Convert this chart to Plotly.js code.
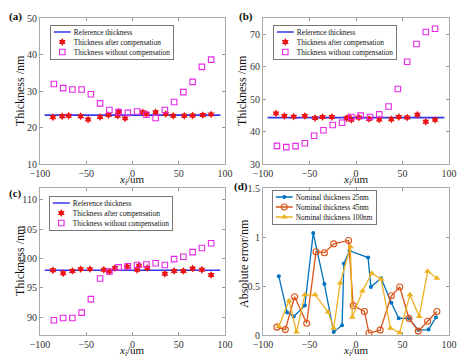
<!DOCTYPE html>
<html>
<head>
<meta charset="utf-8">
<script src="https://cdn.plot.ly/plotly-3.0.1.min.js"></script>
<style>
html,body{margin:0;padding:0;background:#fff;}
#plot{width:474px;height:361px;}
</style>
</head>
<body>
<div id="plot"></div>
<script>
// ---------- data ----------
var refX = [-95, 95];
// panel (a) nominal 25 nm
var refA = 23.4;
var afterAx = [-86, -76, -69, -56, -48, -35, -26, -16, -15, -8, 11, 15, 25, 36, 44, 56, 65, 76, 85];
var afterAy = [22.8, 23.1, 23.2, 23.1, 22.2, 22.9, 23.4, 23.2, 24.3, 22.5, 24.2, 23.7, 24.2, 23.7, 23.2, 23.2, 23.3, 23.4, 23.6];
var withoutX = [-85, -75, -65, -55, -45, -35, -25, -15, -5, 5, 15, 25, 35, 45, 55, 65, 75, 85];
var withoutAy = [31.9, 30.8, 30.4, 30.4, 29.1, 26.6, 24.8, 24.2, 24.0, 24.4, 23.5, 22.6, 24.8, 27.0, 29.7, 32.5, 36.6, 38.6];
// panel (b) nominal 45 nm
var refB = 44.3;
var afterBx = [-86, -77, -67, -55, -44, -36, -26, -10, -8, -5, 3, 14, 25, 38, 46, 55, 66, 75, 85];
var afterBy = [45.6, 44.8, 44.6, 44.8, 44.2, 44.5, 44.5, 44.1, 44.4, 43.6, 44.3, 43.9, 43.7, 43.8, 44.5, 44.3, 45.2, 43.0, 43.6];
var withoutBy = [35.6, 35.2, 35.5, 36.4, 38.7, 40.4, 42.0, 42.7, 44.5, 44.9, 44.5, 45.3, 47.7, 53.1, 61.5, 67.0, 70.7, 71.7];
// panel (c) nominal 100 nm
var refC = 98.0;
var afterCx = [-86, -75, -65, -56, -46, -31, -25, -19, -6, 5, 7, 16, 35, 45, 55, 65, 75, 85];
var afterCy = [98.0, 97.5, 97.9, 98.2, 98.2, 98.1, 97.8, 98.4, 98.6, 98.1, 98.8, 98.4, 97.4, 97.9, 97.9, 98.3, 98.1, 97.2];
var withoutCy = [89.5, 89.9, 89.9, 90.8, 93.1, 96.6, 97.8, 98.5, 98.7, 98.9, 99.0, 99.2, 98.9, 99.9, 100.3, 101.1, 101.8, 102.6];
// panel (d) absolute errors
var err25x = [-83, -74, -67, -55, -46, -34, -24, -15, -13, -7, 13, 16, 27, 38, 46, 57, 67, 78, 86];
var err25y = [0.60, 0.23, 0.19, 0.30, 1.04, 0.52, 0.03, 0.10, 0.73, 0.86, 0.79, 0.49, 0.58, 0.33, 0.17, 0.17, 0.05, 0.055, 0.18];
var err45x = [-85, -76, -66, -53, -43, -34, -24, -8, -3, 9, 14, 26, 38, 47, 57, 67, 77, 87];
var err45y = [0.08, 0.055, 0.39, 0.12, 0.85, 0.84, 0.93, 0.965, 0.30, 0.24, 0.02, 0.05, 0.40, 0.49, 0.17, 0.04, 0.14, 0.24];
var err100x = [-83, -72, -64, -55, -44, -30, -24, -17, -6, -4, 7, 17, 27, 37, 47, 58, 68, 77, 87];
var err100y = [0.09, 0.35, 0.03, 0.41, 0.41, 0.235, 0.07, 0.53, 0.90, 0.18, 0.45, 0.63, 0.57, 0.07, 0.024, 0.41, 0.19, 0.65, 0.58];

var xTicks = [-100, -50, 0, 50, 100];
var xTitle = '<i>x</i><sub><i>i</i></sub>/um';
var yTitleThick = 'Thickness /nm';
var yTitleErr = 'Absolute error/nm';
var legRef = 'Reference thickness';
var legAfter = 'Thickness after compensation';
var legWithout = 'Thickness without compensation';
var legD = ['Nominal thickness 25nm', 'Nominal thickness 45nm', 'Nominal thickness 100nm'];

// ---------- styles ----------
var FONT = 'Liberation Serif, Times New Roman, serif';
var refStyle = {color: 'rgb(55,55,235)', width: 1.6};
var afterMarker = {symbol: 'hexagram', size: 6, color: 'rgb(235,20,20)', line: {width: 0}};
var withoutMarker = {symbol: 'square-open', size: 5.5, color: 'rgb(230,40,230)', line: {width: 1.1}};
var cBlue = '#0072BD', cOrange = '#D95319', cYellow = '#EDB120';

function thicknessTraces(xa, ya, lg, ref, ax, ay, wy) {
  return [
    {x: refX, y: [ref, ref], mode: 'lines', line: refStyle, name: legRef, xaxis: xa, yaxis: ya, legend: lg},
    {x: ax, y: ay, mode: 'markers', marker: afterMarker, name: legAfter, xaxis: xa, yaxis: ya, legend: lg},
    {x: withoutX, y: wy, mode: 'markers', marker: withoutMarker, name: legWithout, xaxis: xa, yaxis: ya, legend: lg}
  ];
}

var data = [].concat(
  thicknessTraces('x', 'y', 'legend', refA, afterAx, afterAy, withoutAy),
  thicknessTraces('x2', 'y2', 'legend2', refB, afterBx, afterBy, withoutBy),
  thicknessTraces('x3', 'y3', 'legend3', refC, afterCx, afterCy, withoutCy),
  [
    {x: err25x, y: err25y, mode: 'lines+markers', name: legD[0], line: {color: cBlue, width: 1.3},
     marker: {symbol: 'circle', size: 4, color: cBlue}, xaxis: 'x4', yaxis: 'y4', legend: 'legend4'},
    {x: err45x, y: err45y, mode: 'lines+markers', name: legD[1], line: {color: cOrange, width: 1.3},
     marker: {symbol: 'circle-open', size: 6, color: cOrange, line: {width: 1.1}}, xaxis: 'x4', yaxis: 'y4', legend: 'legend4'},
    {x: err100x, y: err100y, mode: 'lines+markers', name: legD[2], line: {color: cYellow, width: 1.3},
     marker: {symbol: 'triangle-up', size: 6, color: cYellow}, xaxis: 'x4', yaxis: 'y4', legend: 'legend4'}
  ]
);

var W = 474, H = 361;
function px(v) { return v / W; }
function py(v) { return (H - v) / H; }

var xdomL = [px(40), px(225)], xdomR = [px(263), px(449)];
var ydomT = [py(164), py(18)], ydomB = [py(335), py(188)];

function xax(dom, anchor) {
  return {
    domain: dom, anchor: anchor, range: [-100, 100], tickvals: xTicks,
    ticks: 'inside', ticklen: 3, tickcolor: '#999', mirror: 'allticks',
    showline: true, linecolor: '#aaa', linewidth: 1, showgrid: false, zeroline: false,
    tickfont: {family: FONT, size: 10, color: '#333'},
    automargin: false
  };
}
function yax(dom, anchor, range, ticks, ticktext) {
  var o = {
    domain: dom, anchor: anchor, range: range, tickvals: ticks,
    ticks: 'inside', ticklen: 3, tickcolor: '#999', mirror: 'allticks',
    showline: true, linecolor: '#aaa', linewidth: 1, showgrid: false, zeroline: false,
    tickfont: {family: FONT, size: 10, color: '#333'},
    automargin: false
  };
  if (ticktext) o.ticktext = ticktext;
  return o;
}
function leg(x, y) {
  return {
    x: x, y: y, xanchor: 'left', yanchor: 'top', bgcolor: '#fff',
    bordercolor: '#555', borderwidth: 0.8,
    font: {family: FONT, size: 7.3, color: '#111'}, itemwidth: 30, tracegroupgap: 0
  };
}

var labelFont = {family: FONT, size: 11, color: '#111'};
var titleFont = {family: FONT, size: 12, color: '#111'};
var xtFont = {family: FONT, size: 11, color: '#111'};
var annos = [
  {text: '<b>(a)</b>', x: px(16), y: py(17), font: labelFont},
  {text: '<b>(b)</b>', x: px(246), y: py(17), font: labelFont},
  {text: '<b>(c)</b>', x: px(16), y: py(193), font: labelFont},
  {text: '<b>(d)</b>', x: px(241), y: py(187), font: labelFont},
  {text: yTitleThick, x: px(20), y: py(91), textangle: -90, font: titleFont},
  {text: yTitleThick, x: px(242), y: py(91), textangle: -90, font: titleFont},
  {text: yTitleThick, x: px(20), y: py(261), textangle: -90, font: titleFont},
  {text: yTitleErr, x: px(244), y: py(264), textangle: -90, font: titleFont},
  {text: xTitle, x: px(132), y: py(180), font: xtFont},
  {text: xTitle, x: px(356), y: py(180), font: xtFont},
  {text: xTitle, x: px(132), y: py(351), font: xtFont},
  {text: xTitle, x: px(356), y: py(351), font: xtFont}
].map(function (a) {
  a.xref = 'paper'; a.yref = 'paper'; a.showarrow = false;
  a.xanchor = 'center'; a.yanchor = 'middle';
  return a;
});

var layout = {
  width: W, height: H,
  margin: {l: 0, r: 0, t: 0, b: 0, autoexpand: false},
  paper_bgcolor: '#fff', plot_bgcolor: '#fff',
  font: {family: FONT},
  xaxis: xax(xdomL, 'y'),
  yaxis: yax(ydomT, 'x', [10, 50], [10, 20, 30, 40, 50]),
  xaxis2: xax(xdomR, 'y2'),
  yaxis2: yax(ydomT, 'x2', [30, 75], [30, 40, 50, 60, 70]),
  xaxis3: xax(xdomL, 'y3'),
  yaxis3: yax(ydomB, 'x3', [87, 112], [90, 95, 100, 105, 110]),
  xaxis4: xax(xdomR, 'y4'),
  yaxis4: yax(ydomB, 'x4', [0, 1.5], [0, 0.5, 1, 1.5], ['0', '0.5', '1', '1.5']),
  legend: leg(px(50), py(25)),
  legend2: leg(px(273), py(25)),
  legend3: leg(px(49), py(196)),
  legend4: leg(px(272), py(190)),
  showlegend: true,
  annotations: annos
};

// compact legend rows like the reference (short symbol, small row gap)
function setAttr(el, k, v) {
  v = String(v);
  if (el.getAttribute(k) !== v) el.setAttribute(k, v);
}
function compactLegends(gd) {
  var step = 10, first = 7, textX = 23;
  gd.querySelectorAll('rect.bg').forEach(function (bg) {
    try {
      var lg = bg.parentNode;
      if (!lg) return;
      var items = lg.querySelectorAll('g.traces');
      if (!items.length) return;
      var maxW = 0;
      items.forEach(function (t, i) {
        var m = /translate\(\s*([-\d.e]+)[ ,]+([-\d.e]+)\s*\)/.exec(t.getAttribute('transform') || '');
        var x0 = m ? parseFloat(m[1]) : 0.8;
        setAttr(t, 'transform', 'translate(' + x0 + ',' + (first + i * step) + ')');
        t.querySelectorAll('path.js-line').forEach(function (p) { setAttr(p, 'd', 'M3,0h17'); });
        t.querySelectorAll('path.scatterpts').forEach(function (p) { setAttr(p, 'transform', 'translate(11.5,0)'); });
        var tx = t.querySelector('text');
        if (tx) {
          setAttr(tx, 'x', textX);
          tx.querySelectorAll('tspan.line').forEach(function (s) { setAttr(s, 'x', textX); });
          try { maxW = Math.max(maxW, tx.getComputedTextLength()); } catch (e) {}
        }
      });
      setAttr(bg, 'height', 2 * first + (items.length - 1) * step);
      if (maxW > 0) setAttr(bg, 'width', Math.round(textX + maxW + 4));
    } catch (e) {}
  });
}

var gdEl = document.getElementById('plot');
var obs = new MutationObserver(function () {
  obs.disconnect();
  compactLegends(gdEl);
  obs.observe(gdEl, {childList: true, subtree: true, attributes: true, attributeFilter: ['transform', 'x', 'd', 'height', 'width']});
});
obs.observe(gdEl, {childList: true, subtree: true, attributes: true, attributeFilter: ['transform', 'x', 'd', 'height', 'width']});

Plotly.newPlot(gdEl, data, layout, {staticPlot: true, displayModeBar: false}).then(function (gd) {
  compactLegends(gd);
  var n = 0;
  var iv = setInterval(function () { compactLegends(gd); if (++n > 40) clearInterval(iv); }, 50);
});
</script>
</body>
</html>
